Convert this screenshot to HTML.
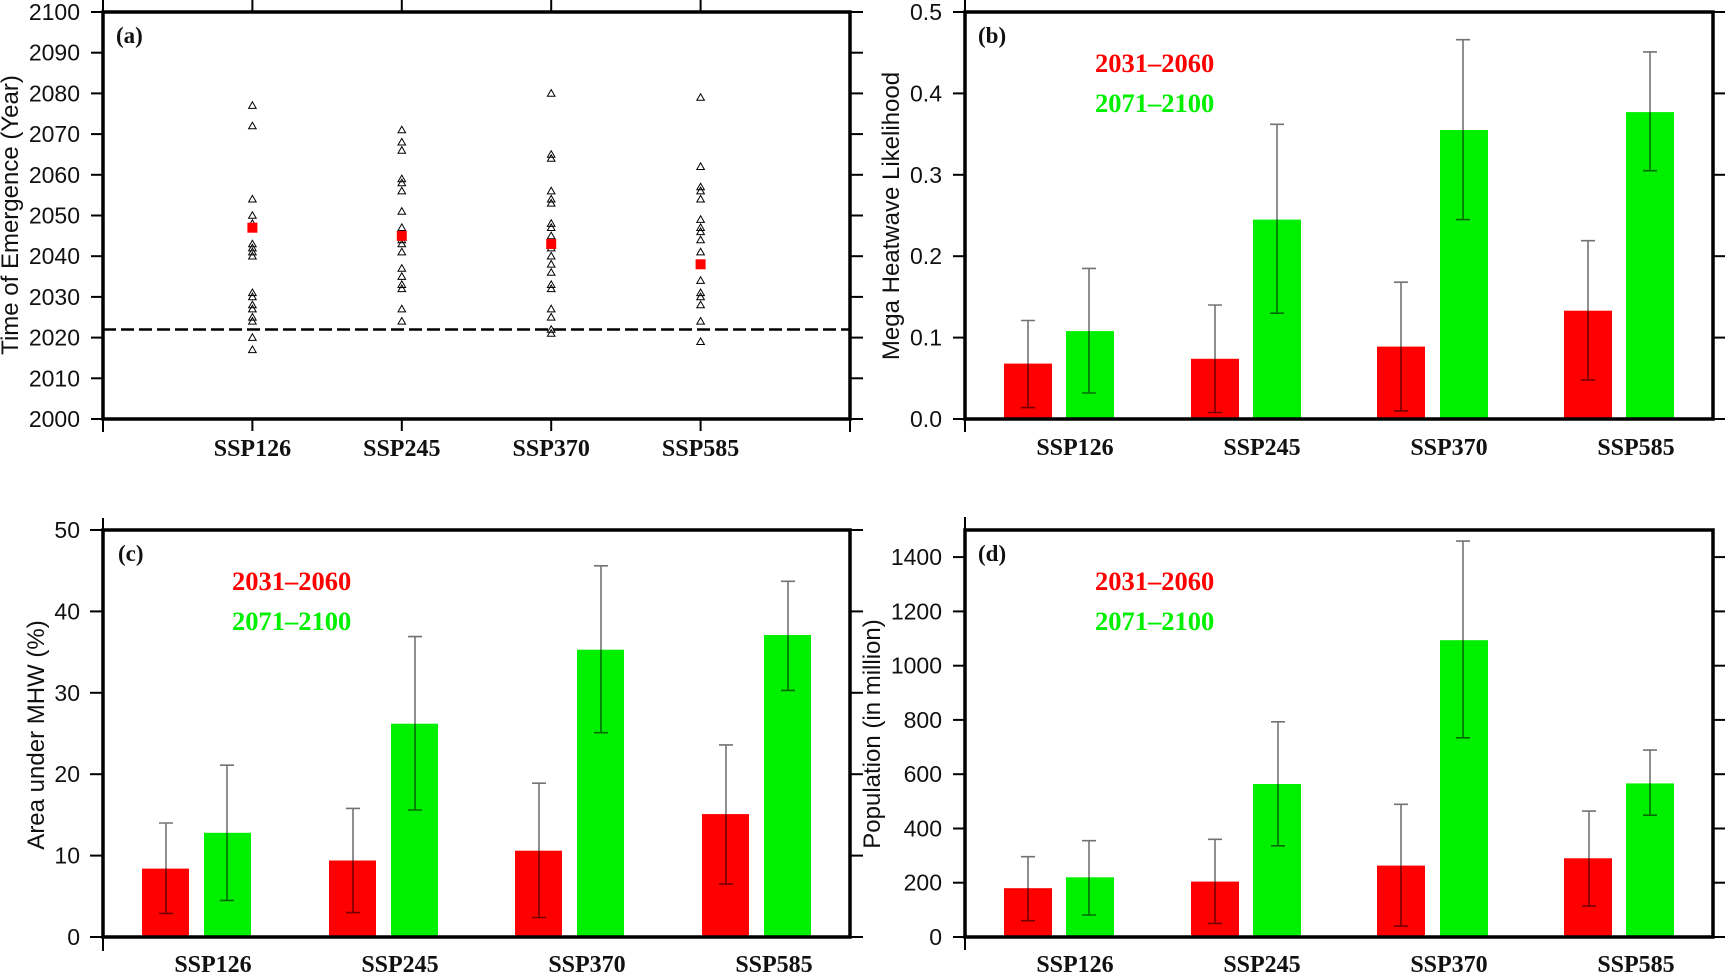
<!DOCTYPE html>
<html>
<head>
<meta charset="utf-8">
<style>
html,body{margin:0;padding:0;background:#fff;}
svg{display:block;}
.tk{font-family:"Liberation Sans",Arial,sans-serif;font-size:23px;fill:#111;text-anchor:end;}
.yt{font-family:"Liberation Sans",Arial,sans-serif;font-size:24px;fill:#111;text-anchor:middle;}
.xl{font-family:"Liberation Serif","Times New Roman",serif;font-size:24px;font-weight:bold;fill:#111;text-anchor:middle;}
.pl{font-family:"Liberation Serif","Times New Roman",serif;font-size:23px;font-weight:bold;fill:#111;}
.lg{font-family:"Liberation Serif","Times New Roman",serif;font-size:26.5px;font-weight:bold;}
.fr{fill:none;stroke:#000;stroke-width:3.5;}
.ax{stroke:#000;stroke-width:2;}
.eb{stroke:#000;stroke-opacity:0.55;stroke-width:1.6;fill:none;}
.tri{fill:none;stroke:#000;stroke-width:1;}
</style>
</head>
<body>
<svg width="1725" height="973" viewBox="0 0 1725 973" xmlns="http://www.w3.org/2000/svg">
<defs>
<path id="t" d="M-3.8,2.8 L3.8,2.8 L0,-3.8 Z" class="tri"/>
</defs>

<!-- ================= PANEL A ================= -->
<g>
<!-- axis extensions & ticks -->
<line class="ax" x1="103" y1="0" x2="103" y2="432"/>
<line class="ax" x1="850" y1="412" x2="850" y2="432"/>
<g class="ax">
<line x1="91" y1="419" x2="103" y2="419"/><line x1="91" y1="378.3" x2="103" y2="378.3"/><line x1="91" y1="337.6" x2="103" y2="337.6"/><line x1="91" y1="296.9" x2="103" y2="296.9"/><line x1="91" y1="256.2" x2="103" y2="256.2"/><line x1="91" y1="215.5" x2="103" y2="215.5"/><line x1="91" y1="174.8" x2="103" y2="174.8"/><line x1="91" y1="134.1" x2="103" y2="134.1"/><line x1="91" y1="93.4" x2="103" y2="93.4"/><line x1="91" y1="52.7" x2="103" y2="52.7"/><line x1="91" y1="12" x2="103" y2="12"/>
<line x1="850" y1="419" x2="863" y2="419"/><line x1="850" y1="378.3" x2="863" y2="378.3"/><line x1="850" y1="337.6" x2="863" y2="337.6"/><line x1="850" y1="296.9" x2="863" y2="296.9"/><line x1="850" y1="256.2" x2="863" y2="256.2"/><line x1="850" y1="215.5" x2="863" y2="215.5"/><line x1="850" y1="174.8" x2="863" y2="174.8"/><line x1="850" y1="134.1" x2="863" y2="134.1"/><line x1="850" y1="93.4" x2="863" y2="93.4"/><line x1="850" y1="52.7" x2="863" y2="52.7"/><line x1="850" y1="12" x2="863" y2="12"/>
<line x1="252.4" y1="0" x2="252.4" y2="12"/><line x1="401.8" y1="0" x2="401.8" y2="12"/><line x1="551.2" y1="0" x2="551.2" y2="12"/><line x1="700.6" y1="0" x2="700.6" y2="12"/>
<line x1="252.4" y1="419" x2="252.4" y2="431"/><line x1="401.8" y1="419" x2="401.8" y2="431"/><line x1="551.2" y1="419" x2="551.2" y2="431"/><line x1="700.6" y1="419" x2="700.6" y2="431"/>
</g>
<rect class="fr" x="103" y="12" width="747" height="407"/>
<text class="tk" x="80" y="427">2000</text>
<text class="tk" x="80" y="386.3">2010</text>
<text class="tk" x="80" y="345.6">2020</text>
<text class="tk" x="80" y="304.9">2030</text>
<text class="tk" x="80" y="264.2">2040</text>
<text class="tk" x="80" y="223.5">2050</text>
<text class="tk" x="80" y="182.8">2060</text>
<text class="tk" x="80" y="142.1">2070</text>
<text class="tk" x="80" y="101.4">2080</text>
<text class="tk" x="80" y="60.7">2090</text>
<text class="tk" x="80" y="20">2100</text>
<text class="yt" transform="translate(18,215) rotate(-90)">Time of Emergence (Year)</text>
<text class="pl" x="116" y="43">(a)</text>
<line x1="103" y1="329.5" x2="850" y2="329.5" stroke="#000" stroke-width="2.5" stroke-dasharray="13,5"/>
<!-- SSP126 -->
<g transform="translate(252.4,0)">
<use href="#t" y="105.6"/><use href="#t" y="126.0"/><use href="#t" y="199.2"/><use href="#t" y="215.5"/><use href="#t" y="223.6"/><use href="#t" y="244.0"/><use href="#t" y="248.1"/><use href="#t" y="252.1"/><use href="#t" y="256.2"/><use href="#t" y="292.8"/><use href="#t" y="296.9"/><use href="#t" y="305.0"/><use href="#t" y="309.1"/><use href="#t" y="317.3"/><use href="#t" y="321.3"/><use href="#t" y="337.6"/><use href="#t" y="349.8"/>
<rect x="-5" y="222.7" width="10" height="10" fill="#ff0000"/>
</g>
<!-- SSP245 -->
<g transform="translate(401.8,0)">
<use href="#t" y="130.0"/><use href="#t" y="142.2"/><use href="#t" y="150.4"/><use href="#t" y="178.9"/><use href="#t" y="183.0"/><use href="#t" y="191.1"/><use href="#t" y="211.4"/><use href="#t" y="227.7"/><use href="#t" y="239.9"/><use href="#t" y="244.0"/><use href="#t" y="252.1"/><use href="#t" y="268.4"/><use href="#t" y="276.6"/><use href="#t" y="284.7"/><use href="#t" y="288.8"/><use href="#t" y="309.1"/><use href="#t" y="321.3"/>
<rect x="-5" y="230.9" width="10" height="10" fill="#ff0000"/>
</g>
<!-- SSP370 -->
<g transform="translate(551.2,0)">
<use href="#t" y="93.4"/><use href="#t" y="154.5"/><use href="#t" y="158.5"/><use href="#t" y="191.1"/><use href="#t" y="199.2"/><use href="#t" y="203.3"/><use href="#t" y="223.6"/><use href="#t" y="227.7"/><use href="#t" y="235.9"/><use href="#t" y="248.1"/><use href="#t" y="256.2"/><use href="#t" y="264.3"/><use href="#t" y="272.5"/><use href="#t" y="284.7"/><use href="#t" y="288.8"/><use href="#t" y="309.1"/><use href="#t" y="317.3"/><use href="#t" y="329.5"/><use href="#t" y="333.5"/>
<rect x="-5" y="239.0" width="10" height="10" fill="#ff0000"/>
</g>
<!-- SSP585 -->
<g transform="translate(700.6,0)">
<use href="#t" y="97.5"/><use href="#t" y="166.7"/><use href="#t" y="187.0"/><use href="#t" y="191.1"/><use href="#t" y="199.2"/><use href="#t" y="219.6"/><use href="#t" y="227.7"/><use href="#t" y="231.8"/><use href="#t" y="239.9"/><use href="#t" y="252.1"/><use href="#t" y="280.6"/><use href="#t" y="292.8"/><use href="#t" y="296.9"/><use href="#t" y="305.0"/><use href="#t" y="321.3"/><use href="#t" y="341.7"/>
<rect x="-5" y="259.3" width="10" height="10" fill="#ff0000"/>
</g>
<text class="xl" x="252.4" y="456">SSP126</text>
<text class="xl" x="401.8" y="456">SSP245</text>
<text class="xl" x="551.2" y="456">SSP370</text>
<text class="xl" x="700.6" y="456">SSP585</text>
</g>

<!-- ================= PANEL B ================= -->
<g>
<line class="ax" x1="965" y1="0" x2="965" y2="432"/>
<g class="ax">
<line x1="953" y1="419" x2="965" y2="419"/><line x1="953" y1="337.6" x2="965" y2="337.6"/><line x1="953" y1="256.2" x2="965" y2="256.2"/><line x1="953" y1="174.8" x2="965" y2="174.8"/><line x1="953" y1="93.4" x2="965" y2="93.4"/><line x1="953" y1="12" x2="965" y2="12"/>
<line x1="1713" y1="419" x2="1725" y2="419"/><line x1="1713" y1="337.6" x2="1725" y2="337.6"/><line x1="1713" y1="256.2" x2="1725" y2="256.2"/><line x1="1713" y1="174.8" x2="1725" y2="174.8"/><line x1="1713" y1="93.4" x2="1725" y2="93.4"/><line x1="1713" y1="12" x2="1725" y2="12"/>
</g>
<text class="tk" x="942" y="427">0.0</text>
<text class="tk" x="942" y="345.6">0.1</text>
<text class="tk" x="942" y="264.2">0.2</text>
<text class="tk" x="942" y="182.8">0.3</text>
<text class="tk" x="942" y="101.4">0.4</text>
<text class="tk" x="942" y="20">0.5</text>
<text class="yt" transform="translate(899,216) rotate(-90)">Mega Heatwave Likelihood</text>
<!-- bars -->
<rect x="1004" y="363.6" width="48" height="55.4" fill="#ff0000"/>
<rect x="1066" y="331.1" width="48" height="87.9" fill="#00f000"/>
<rect x="1191" y="358.8" width="48" height="60.2" fill="#ff0000"/>
<rect x="1253" y="219.6" width="48" height="199.4" fill="#00f000"/>
<rect x="1377" y="346.6" width="48" height="72.4" fill="#ff0000"/>
<rect x="1440" y="130.0" width="48" height="289.0" fill="#00f000"/>
<rect x="1564" y="310.7" width="48" height="108.3" fill="#ff0000"/>
<rect x="1626" y="112.1" width="48" height="306.9" fill="#00f000"/>
<!-- error bars -->
<path class="eb" d="M1028,407.6V320.5M1021,407.6H1035M1021,320.5H1035"/>
<path class="eb" d="M1089,393.0V268.4M1082,393.0H1096M1082,268.4H1096"/>
<path class="eb" d="M1215,412.5V305.0M1208,412.5H1222M1208,305.0H1222"/>
<path class="eb" d="M1277,313.2V124.3M1270,313.2H1284M1270,124.3H1284"/>
<path class="eb" d="M1401,410.9V282.2M1394,410.9H1408M1394,282.2H1408"/>
<path class="eb" d="M1463,219.6V39.7M1456,219.6H1470M1456,39.7H1470"/>
<path class="eb" d="M1588,379.9V240.7M1581,379.9H1595M1581,240.7H1595"/>
<path class="eb" d="M1650,170.7V51.9M1643,170.7H1657M1643,51.9H1657"/>
<rect class="fr" x="965" y="12" width="748" height="407"/>
<text class="pl" x="978" y="43">(b)</text>
<text class="lg" x="1095" y="72" fill="#ff0000">2031–2060</text>
<text class="lg" x="1095" y="112" fill="#00f000">2071–2100</text>
<text class="xl" x="1075" y="455">SSP126</text>
<text class="xl" x="1262" y="455">SSP245</text>
<text class="xl" x="1449" y="455">SSP370</text>
<text class="xl" x="1636" y="455">SSP585</text>
</g>

<!-- ================= PANEL C ================= -->
<g>
<line class="ax" x1="103" y1="518" x2="103" y2="951"/>
<g class="ax">
<line x1="90" y1="937" x2="103" y2="937"/><line x1="90" y1="855.6" x2="103" y2="855.6"/><line x1="90" y1="774.2" x2="103" y2="774.2"/><line x1="90" y1="692.8" x2="103" y2="692.8"/><line x1="90" y1="611.4" x2="103" y2="611.4"/><line x1="90" y1="530" x2="103" y2="530"/>
<line x1="850" y1="937" x2="863" y2="937"/><line x1="850" y1="855.6" x2="863" y2="855.6"/><line x1="850" y1="774.2" x2="863" y2="774.2"/><line x1="850" y1="692.8" x2="863" y2="692.8"/><line x1="850" y1="611.4" x2="863" y2="611.4"/><line x1="850" y1="530" x2="863" y2="530"/>
</g>
<text class="tk" x="80" y="945">0</text>
<text class="tk" x="80" y="863.6">10</text>
<text class="tk" x="80" y="782.2">20</text>
<text class="tk" x="80" y="700.8">30</text>
<text class="tk" x="80" y="619.4">40</text>
<text class="tk" x="80" y="538">50</text>
<text class="yt" transform="translate(44,735) rotate(-90)">Area under MHW (%)</text>
<rect x="142" y="868.6" width="47" height="68.4" fill="#ff0000"/>
<rect x="204" y="832.8" width="47" height="104.2" fill="#00f000"/>
<rect x="329" y="860.5" width="47" height="76.5" fill="#ff0000"/>
<rect x="391" y="723.7" width="47" height="213.3" fill="#00f000"/>
<rect x="515" y="850.7" width="47" height="86.3" fill="#ff0000"/>
<rect x="577" y="649.7" width="47" height="287.3" fill="#00f000"/>
<rect x="702" y="814.1" width="47" height="122.9" fill="#ff0000"/>
<rect x="764" y="635.0" width="47" height="302.0" fill="#00f000"/>
<path class="eb" d="M166,913.4V823.0M159,913.4H173M159,823.0H173"/>
<path class="eb" d="M227,900.4V765.2M220,900.4H234M220,765.2H234"/>
<path class="eb" d="M353,912.6V808.4M346,912.6H360M346,808.4H360"/>
<path class="eb" d="M415,810.0V636.6M408,810.0H422M408,636.6H422"/>
<path class="eb" d="M539,917.5V783.2M532,917.5H546M532,783.2H546"/>
<path class="eb" d="M601,732.7V565.8M594,732.7H608M594,565.8H608"/>
<path class="eb" d="M726,884.1V744.9M719,884.1H733M719,744.9H733"/>
<path class="eb" d="M788,690.4V581.3M781,690.4H795M781,581.3H795"/>
<rect class="fr" x="103" y="530" width="747" height="407"/>
<text class="pl" x="118" y="561">(c)</text>
<text class="lg" x="232" y="590" fill="#ff0000">2031–2060</text>
<text class="lg" x="232" y="630" fill="#00f000">2071–2100</text>
<text class="xl" x="213" y="972">SSP126</text>
<text class="xl" x="400" y="972">SSP245</text>
<text class="xl" x="587" y="972">SSP370</text>
<text class="xl" x="774" y="972">SSP585</text>
</g>

<!-- ================= PANEL D ================= -->
<g>
<line class="ax" x1="965" y1="517" x2="965" y2="950"/>
<g class="ax">
<line x1="953" y1="937" x2="965" y2="937"/><line x1="953" y1="882.7" x2="965" y2="882.7"/><line x1="953" y1="828.5" x2="965" y2="828.5"/><line x1="953" y1="774.2" x2="965" y2="774.2"/><line x1="953" y1="719.9" x2="965" y2="719.9"/><line x1="953" y1="665.7" x2="965" y2="665.7"/><line x1="953" y1="611.4" x2="965" y2="611.4"/><line x1="953" y1="557.1" x2="965" y2="557.1"/>
<line x1="1713" y1="937" x2="1725" y2="937"/><line x1="1713" y1="882.7" x2="1725" y2="882.7"/><line x1="1713" y1="828.5" x2="1725" y2="828.5"/><line x1="1713" y1="774.2" x2="1725" y2="774.2"/><line x1="1713" y1="719.9" x2="1725" y2="719.9"/><line x1="1713" y1="665.7" x2="1725" y2="665.7"/><line x1="1713" y1="611.4" x2="1725" y2="611.4"/><line x1="1713" y1="557.1" x2="1725" y2="557.1"/>
</g>
<text class="tk" x="942" y="945">0</text>
<text class="tk" x="942" y="890.7">200</text>
<text class="tk" x="942" y="836.5">400</text>
<text class="tk" x="942" y="782.2">600</text>
<text class="tk" x="942" y="727.9">800</text>
<text class="tk" x="942" y="673.7">1000</text>
<text class="tk" x="942" y="619.4">1200</text>
<text class="tk" x="942" y="565.1">1400</text>
<text class="yt" transform="translate(880,734) rotate(-90)">Population (in million)</text>
<rect x="1004" y="888.2" width="48" height="48.8" fill="#ff0000"/>
<rect x="1066" y="877.3" width="48" height="59.7" fill="#00f000"/>
<rect x="1191" y="881.6" width="48" height="55.4" fill="#ff0000"/>
<rect x="1253" y="784.0" width="48" height="153.0" fill="#00f000"/>
<rect x="1377" y="865.6" width="48" height="71.4" fill="#ff0000"/>
<rect x="1440" y="640.2" width="48" height="296.8" fill="#00f000"/>
<rect x="1564" y="858.3" width="48" height="78.7" fill="#ff0000"/>
<rect x="1626" y="783.4" width="48" height="153.6" fill="#00f000"/>
<path class="eb" d="M1028,920.7V856.7M1021,920.7H1035M1021,856.7H1035"/>
<path class="eb" d="M1089,915.0V840.7M1082,915.0H1096M1082,840.7H1096"/>
<path class="eb" d="M1215,923.4V839.3M1208,923.4H1222M1208,839.3H1222"/>
<path class="eb" d="M1278,845.8V721.8M1271,845.8H1285M1271,721.8H1285"/>
<path class="eb" d="M1401,926.1V804.3M1394,926.1H1408M1394,804.3H1408"/>
<path class="eb" d="M1463,737.8V541.1M1456,737.8H1470M1456,541.1H1470"/>
<path class="eb" d="M1589,906.1V811.1M1582,906.1H1596M1582,811.1H1596"/>
<path class="eb" d="M1650,815.2V750.1M1643,815.2H1657M1643,750.1H1657"/>
<rect class="fr" x="965" y="530" width="748" height="407"/>
<text class="pl" x="978" y="561">(d)</text>
<text class="lg" x="1095" y="590" fill="#ff0000">2031–2060</text>
<text class="lg" x="1095" y="630" fill="#00f000">2071–2100</text>
<text class="xl" x="1075" y="972">SSP126</text>
<text class="xl" x="1262" y="972">SSP245</text>
<text class="xl" x="1449" y="972">SSP370</text>
<text class="xl" x="1636" y="972">SSP585</text>
</g>
</svg>
</body>
</html>
